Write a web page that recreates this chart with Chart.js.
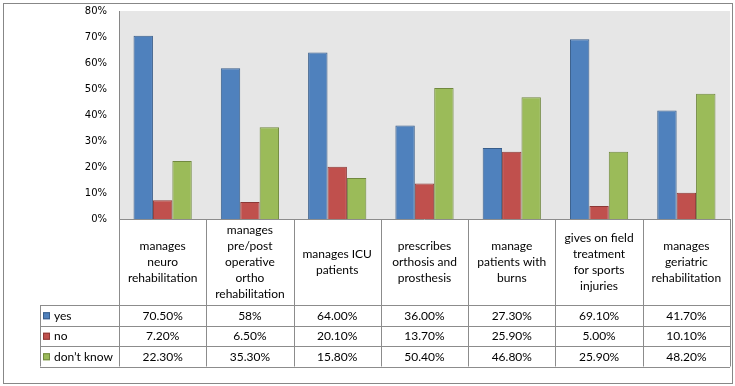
<!DOCTYPE html>
<html>
<head>
<meta charset="utf-8">
<script src="https://cdn.jsdelivr.net/npm/chart.js@4"></script>
<style>
  body { margin: 0; background: #fff; }
  #wrap { width: 735px; height: 386px; }
</style>
</head>
<body>
<div id="wrap"><canvas id="chart" width="735" height="386"></canvas></div>
<script>
// categories (already split the way the table wraps them)
const categories = [
  ['manages', 'neuro', 'rehabilitation'],
  ['manages', 'pre/post', 'operative', 'ortho', 'rehabilitation'],
  ['manages ICU', 'patients'],
  ['prescribes', 'orthosis and', 'prosthesis'],
  ['manage', 'patients with', 'burns'],
  ['gives on field', 'treatment', 'for sports', 'injuries'],
  ['manages', 'geriatric', 'rehabilitation']
];
const seriesNames = ['yes', 'no', 'don\u2019t know'];
// values as printed in the data table
const yesText = ['70.50%', '58%', '64.00%', '36.00%', '27.30%', '69.10%', '41.70%'];
const noText = ['7.20%', '6.50%', '20.10%', '13.70%', '25.90%', '5.00%', '10.10%'];
const dontKnowText = ['22.30%', '35.30%', '15.80%', '50.40%', '46.80%', '25.90%', '48.20%'];
const yTicks = [0, 0.1, 0.2, 0.3, 0.4, 0.5, 0.6, 0.7, 0.8];

const fills = ['#4F81BD', '#C0504D', '#9BBB59'];
const borders = ['#385D8A', '#8C3836', '#71893F'];
const tableRows = [yesText, noText, dontKnowText];
const toNum = arr => arr.map(s => parseFloat(s) / 100);

const lineColor = '#8c8c8c';
const tableFont = '12px Lato';

const tablePlugin = {
  id: 'dataTable',
  beforeDraw(chart) {
    const { ctx, chartArea: a } = chart;
    ctx.save();
    ctx.fillStyle = '#fff';
    ctx.fillRect(0, 0, chart.width, chart.height);
    ctx.fillStyle = '#E6E6E6';
    ctx.fillRect(a.left, a.top, a.right - a.left, a.bottom - a.top);
    ctx.restore();
  },
  afterDraw(chart) {
    const { ctx, chartArea: a } = chart;
    const xs = chart.scales.x;
    const colW = (a.right - a.left) / categories.length;
    const headBottom = 305;
    const rowH = 20.5;
    const tableBottom = headBottom + rowH * 3;
    const legendLeft = 40;
    const crisp = v => Math.round(v) + 0.5;

    ctx.save();
    ctx.strokeStyle = lineColor;
    ctx.lineWidth = 1;
    ctx.beginPath();
    // horizontal lines
    ctx.moveTo(a.left, crisp(a.bottom)); ctx.lineTo(a.right, crisp(a.bottom));
    for (let r = 0; r <= 3; r++) {
      const y = crisp(headBottom + rowH * r);
      ctx.moveTo(legendLeft, y); ctx.lineTo(a.right, y);
    }
    // vertical lines
    for (let i = 0; i <= categories.length; i++) {
      const x = crisp(a.left + colW * i);
      ctx.moveTo(x, a.bottom); ctx.lineTo(x, tableBottom);
    }
    ctx.moveTo(crisp(legendLeft), headBottom); ctx.lineTo(crisp(legendLeft), tableBottom);
    ctx.stroke();

    // outer frame
    ctx.strokeStyle = '#878787';
    ctx.strokeRect(3.5, 3.5, chart.width - 6, chart.height - 6);

    ctx.fillStyle = '#000';
    ctx.font = tableFont;
    ctx.textAlign = 'center';
    ctx.textBaseline = 'middle';
    const lineH = 16;
    categories.forEach((lines, i) => {
      const cx = xs.getPixelForValue(i);
      const cy = (a.bottom + headBottom) / 2;
      const y0 = cy - (lines.length - 1) * lineH / 2;
      lines.forEach((t, k) => ctx.fillText(t, cx, y0 + k * lineH));
    });
    tableRows.forEach((row, r) => {
      const cy = headBottom + rowH * r + rowH / 2 + 0.5;
      row.forEach((t, i) => ctx.fillText(t, xs.getPixelForValue(i), cy));
      // legend key + name
      ctx.fillStyle = fills[r];
      ctx.fillRect(43, cy - 3.5, 7, 7);
      ctx.strokeStyle = borders[r];
      ctx.strokeRect(43.5, cy - 3, 6, 6);
      ctx.fillStyle = '#000';
      ctx.textAlign = 'left';
      ctx.fillText(seriesNames[r], 54, cy);
      ctx.textAlign = 'center';
    });
    ctx.restore();
  }
};

new Chart(document.getElementById('chart'), {
  type: 'bar',
  data: {
    labels: categories,
    datasets: tableRows.map((row, r) => ({
      label: seriesNames[r],
      data: toNum(row),
      backgroundColor: fills[r],
      borderColor: borders[r],
      borderWidth: 1,
      barPercentage: 1,
      categoryPercentage: 0.667
    }))
  },
  options: {
    responsive: false,
    animation: false,
    layout: { padding: { left: 0, right: 5, top: 11, bottom: 167 } },
    plugins: { legend: { display: false }, tooltip: { enabled: false } },
    scales: {
      x: { display: false },
      y: {
        min: 0,
        max: 0.8,
        afterBuildTicks: scale => { scale.ticks = yTicks.map(v => ({ value: v })); },
        afterFit: scale => {
          scale.width = 119;
          scale.paddingTop = 0;
          scale.paddingBottom = 0;
        },
        grid: { display: false, drawTicks: false },
        border: { display: true, color: '#868686' },
        ticks: {
          padding: 12,
          color: '#000',
          font: { family: 'DejaVu Sans', size: 10 },
          callback: v => Math.round(v * 100) + '%'
        }
      }
    }
  },
  plugins: [tablePlugin]
});
</script>
</body>
</html>
